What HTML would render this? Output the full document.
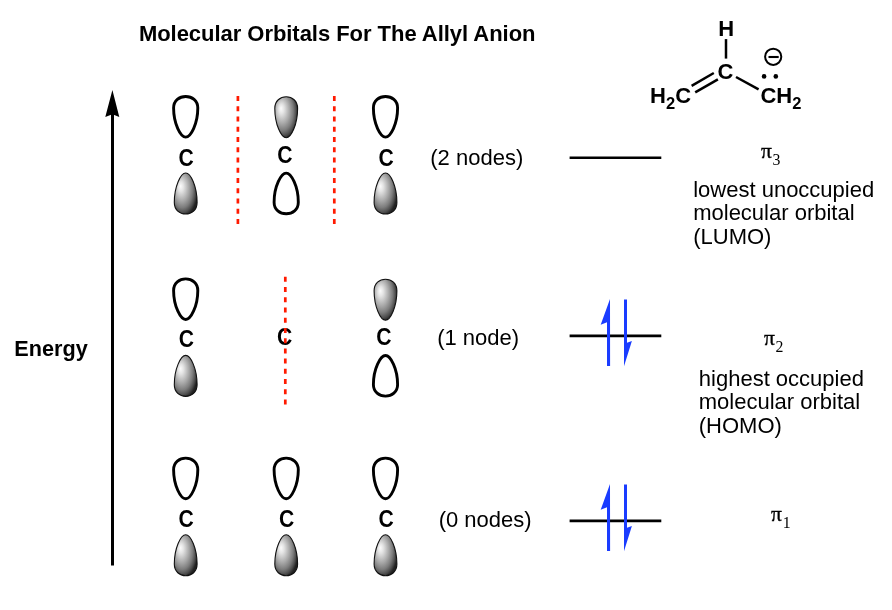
<!DOCTYPE html>
<html><head><meta charset="utf-8">
<style>
html,body{margin:0;padding:0;background:#fff;width:892px;height:610px;overflow:hidden}
svg{display:block;will-change:transform}
.b{font-family:"Liberation Sans",sans-serif;font-weight:bold;fill:#000}
.r{font-family:"Liberation Sans",sans-serif;fill:#000}
.s{font-family:"Liberation Serif",serif;fill:#000}
</style></head><body>
<svg width="892" height="610" viewBox="0 0 892 610">
<defs>
<path id="ld" d="M0 0C6.2 0 12.1 4 12.1 11.6C12.1 27.5 5 40.65 0 40.65C-5 40.65 -12.1 27.5 -12.1 11.6C-12.1 4 -6.2 0 0 0Z"/>
<path id="lf" d="M0 0C5.9 0 11.4 4 11.4 11.6C11.4 27.5 5 41 0 41C-5 41 -11.4 27.5 -11.4 11.6C-11.4 4 -5.9 0 0 0Z"/>
<radialGradient id="gr" cx="0.37" cy="0.38" fx="0.27" fy="0.28" r="0.65">
<stop offset="0" stop-color="#fcfcfc"/>
<stop offset="0.18" stop-color="#e4e4e4"/>
<stop offset="0.5" stop-color="#a8a8a8"/>
<stop offset="0.72" stop-color="#7c7c7c"/>
<stop offset="0.88" stop-color="#4e4e4e"/>
<stop offset="1" stop-color="#222"/>
</radialGradient>
<radialGradient id="gu" href="#gr" cy="0.6" fy="0.68"/>
<g id="eT"><use href="#ld" fill="none" stroke="#000" stroke-width="2.9"/></g>
<g id="fT"><use href="#lf" fill="url(#gr)" stroke="#111" stroke-width="1.1"/></g>
<g id="fU"><use href="#lf" fill="url(#gu)" stroke="#111" stroke-width="1.1"/></g>
</defs>

<!-- title -->
<text class="b" x="138.9" y="40.9" font-size="22" textLength="396.6" lengthAdjust="spacing">Molecular Orbitals For The Allyl Anion</text>

<!-- energy axis -->
<rect x="111" y="110" width="3" height="455.5" fill="#000"/>
<path d="M112.4 89.9L119.3 117L112.4 114.2L105.3 117Z" fill="#000"/>
<text class="b" x="14.3" y="356.2" font-size="22" textLength="73.4" lengthAdjust="spacingAndGlyphs">Energy</text>

<!-- row 1 -->
<use href="#eT" transform="translate(185.7 96.45)"/>
<use href="#fU" transform="translate(185.7 214.0) scale(1 -1)"/>
<use href="#fT" transform="translate(286.2 96.80)"/>
<use href="#eT" transform="translate(286.2 213.75) scale(1 -1)"/>
<use href="#eT" transform="translate(385.5 96.45)"/>
<use href="#fU" transform="translate(385.5 214.0) scale(1 -1)"/>
<text class="b" transform="translate(186.1 166.0) scale(0.96 1.05)" font-size="22" text-anchor="middle">C</text>
<text class="b" transform="translate(284.8 162.8) scale(0.96 1.05)" font-size="22" text-anchor="middle">C</text>
<text class="b" transform="translate(386.1 166.0) scale(0.96 1.05)" font-size="22" text-anchor="middle">C</text>

<!-- row 2 -->
<use href="#eT" transform="translate(185.7 278.85)"/>
<use href="#fU" transform="translate(185.7 396.4) scale(1 -1)"/>
<use href="#fT" transform="translate(385.5 279.20)"/>
<use href="#eT" transform="translate(385.5 396.15) scale(1 -1)"/>
<text class="b" transform="translate(186.3 347.4) scale(0.96 1.05)" font-size="22" text-anchor="middle">C</text>
<text class="b" transform="translate(284.7 345.1) scale(0.96 1.05)" font-size="22" text-anchor="middle">C</text>
<text class="b" transform="translate(383.9 345.4) scale(0.96 1.05)" font-size="22" text-anchor="middle">C</text>

<!-- row 3 -->
<use href="#eT" transform="translate(185.7 458.15)"/>
<use href="#fU" transform="translate(185.7 575.7) scale(1 -1)"/>
<use href="#eT" transform="translate(286.2 458.15)"/>
<use href="#fU" transform="translate(286.2 575.7) scale(1 -1)"/>
<use href="#eT" transform="translate(385.5 458.15)"/>
<use href="#fU" transform="translate(385.5 575.7) scale(1 -1)"/>
<text class="b" transform="translate(186.2 527.1) scale(0.96 1.05)" font-size="22" text-anchor="middle">C</text>
<text class="b" transform="translate(286.6 526.9) scale(0.96 1.05)" font-size="22" text-anchor="middle">C</text>
<text class="b" transform="translate(386.1 526.9) scale(0.96 1.05)" font-size="22" text-anchor="middle">C</text>

<!-- node lines -->
<g stroke="#ff1a00" stroke-width="2.7" stroke-dasharray="5 5.24">
<line x1="237.9" y1="96" x2="237.9" y2="224"/>
<line x1="334.3" y1="96" x2="334.3" y2="224"/>
<line x1="285.3" y1="276.7" x2="285.3" y2="405"/>
</g>

<!-- node labels -->
<text class="r" x="430.3" y="164.9" font-size="22">(2 nodes)</text>
<text class="r" x="437.2" y="345.0" font-size="22">(1 node)</text>
<text class="r" x="438.7" y="527.3" font-size="22">(0 nodes)</text>

<!-- levels -->
<g stroke="#000" stroke-width="2.6">
<line x1="569.6" y1="157.8" x2="661.3" y2="157.8"/>
<line x1="569.6" y1="335.9" x2="661.3" y2="335.9"/>
<line x1="569.6" y1="520.9" x2="661.3" y2="520.9"/>
</g>
<!-- electrons -->
<g fill="#1a3cff">
<path d="M607 365.9V322.2L600.7 324.7L610 299.1L610.1 365.9Z"/>
<path d="M624 299.6H627V342.8L631.9 341.1L624 366.2Z"/>
<path d="M607 550.9V507.2L600.7 509.7L610 484.1L610.1 550.9Z"/>
<path d="M624 484.6H627V527.8L631.9 526.1L624 551.2Z"/>
</g>

<!-- pi labels -->
<g class="s">
<text x="761.0" y="158" font-size="21.5" stroke="#000" stroke-width="0.35">π</text><text x="772.6" y="165.1" font-size="15.8">3</text>
<text x="764.1" y="345.3" font-size="21.5" stroke="#000" stroke-width="0.35">π</text><text x="775.6" y="352.2" font-size="15.8">2</text>
<text x="771.1" y="521.3" font-size="21.5" stroke="#000" stroke-width="0.35">π</text><text x="782.8" y="527.9" font-size="15.8">1</text>
</g>

<!-- descriptions -->
<g class="r" font-size="22">
<text x="693.2" y="196.9">lowest unoccupied</text>
<text x="693.2" y="220.1">molecular orbital</text>
<text x="693.2" y="243.5">(LUMO)</text>
<text x="698.8" y="386.2">highest occupied</text>
<text x="698.8" y="409.4">molecular orbital</text>
<text x="698.8" y="432.8">(HOMO)</text>
</g>

<!-- allyl anion structure -->
<g class="b" font-size="22">
<text x="726.2" y="36.2" text-anchor="middle">H</text>
<text x="725.4" y="79" text-anchor="middle">C</text>
<text x="650.1" y="103">H<tspan font-size="16.5" dy="6">2</tspan><tspan dy="-6">C</tspan></text>
<text x="760.4" y="103">CH<tspan font-size="16.5" dy="6">2</tspan></text>
</g>
<g stroke="#000" stroke-width="2.5" stroke-linecap="butt">
<line x1="726" y1="39.1" x2="726" y2="58.6"/>
<line x1="691.6" y1="85.8" x2="713.8" y2="73.0"/>
<line x1="695.2" y1="92.4" x2="717.9" y2="79.4"/>
<line x1="736" y1="77" x2="758.6" y2="89.4"/>
</g>
<circle cx="773.2" cy="56.8" r="8.1" fill="none" stroke="#000" stroke-width="2"/>
<line x1="768.5" y1="57" x2="778.7" y2="57" stroke="#000" stroke-width="2.1"/>
<circle cx="764.1" cy="76.4" r="2.3" fill="#000"/>
<circle cx="775.8" cy="76.4" r="2.3" fill="#000"/>
</svg>
</body></html>
